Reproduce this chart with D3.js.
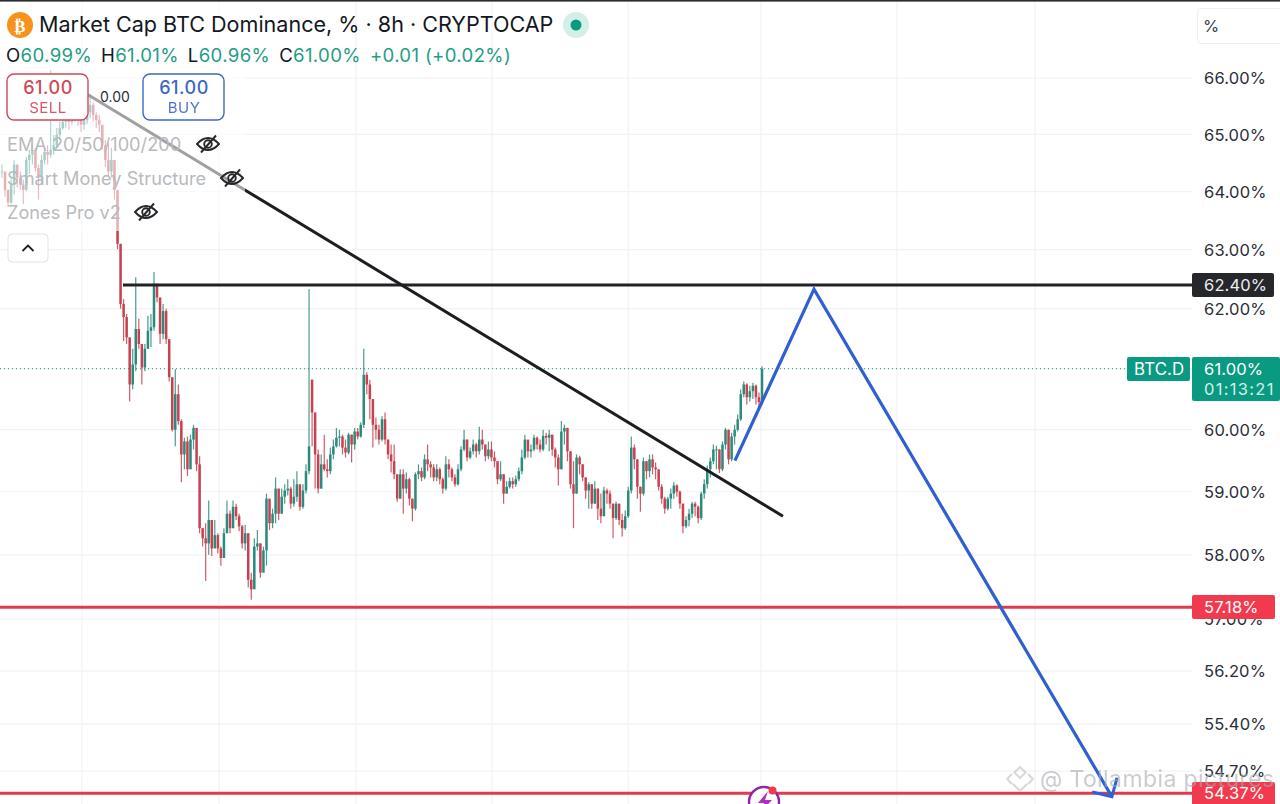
<!DOCTYPE html>
<html><head><meta charset="utf-8">
<script src="https://cdn.jsdelivr.net/npm/d3@7/dist/d3.min.js"></script>
<style>html,body{margin:0;padding:0;background:#fff;overflow:hidden}svg{display:block}text{font-family:Inter,Roboto,"Noto Sans",sans-serif}</style>
</head><body><div id="chart"></div>
<script>
const closes=[64.35,64.03,63.81,64.12,64.47,64.24,64.12,64.03,64.55,64.64,64.73,64.41,64.24,64.55,64.69,64.64,64.73,64.81,64.99,65.11,65.22,65.29,65.22,65.29,65.39,65.29,65.17,65.25,65.39,65.52,65.34,65.25,65.17,64.81,64.55,64.35,64.55,64.03,63.10,62.08,61.86,61.52,60.74,61.07,61.66,61.41,61.02,61.33,61.63,61.69,62.42,62.19,61.58,61.96,61.49,60.86,60.00,60.58,60.14,59.60,59.81,59.36,59.84,60.03,59.44,58.42,58.26,58.18,58.55,58.10,58.31,58.10,57.95,58.34,58.65,58.42,58.76,58.61,58.45,58.18,58.34,57.61,57.46,58.13,58.18,57.72,58.07,58.89,58.50,58.65,59.05,58.65,58.92,59.02,59.05,58.81,58.92,59.12,58.76,59.02,59.33,59.73,60.28,59.60,59.05,59.44,59.36,59.33,59.60,59.73,59.87,59.89,59.71,59.63,59.92,59.76,59.97,59.89,60.08,60.90,60.74,60.50,60.08,60.00,59.84,60.17,59.84,59.60,59.49,59.28,58.89,59.28,59.05,59.20,58.89,58.73,59.28,59.33,59.23,59.52,59.44,59.39,59.23,59.36,59.20,59.05,59.44,59.36,59.23,59.12,59.36,59.68,59.84,59.55,59.65,59.76,59.65,59.84,59.76,59.57,59.68,59.55,59.49,59.20,59.28,58.97,59.08,59.17,59.12,59.20,59.33,59.55,59.84,59.65,59.68,59.87,59.76,59.68,59.90,59.87,59.92,59.68,59.55,59.36,59.97,60.03,59.65,59.12,58.97,59.55,59.44,59.23,59.02,59.12,58.81,59.05,58.73,58.61,59.02,58.97,58.81,58.58,58.81,58.55,58.42,58.61,59.02,59.71,59.52,59.08,58.97,59.49,59.33,59.52,59.39,59.36,59.08,58.89,58.73,58.89,58.97,59.10,59.00,58.81,58.45,58.55,58.65,58.81,58.76,58.58,58.97,59.12,59.36,59.49,59.68,59.68,59.36,59.76,60.00,59.52,59.89,60.00,60.17,60.58,60.74,60.53,60.63,60.72,60.53,60.45,61.00];
const highs=[64.47,64.15,64.03,64.24,64.55,64.47,64.35,64.21,64.60,64.73,64.85,64.76,64.47,64.64,64.76,64.81,66.14,64.99,65.11,65.22,65.61,65.47,65.39,65.52,65.61,65.52,65.39,65.43,65.61,65.70,65.56,65.39,65.34,64.94,64.90,64.85,64.76,64.38,63.98,63.10,62.16,61.91,61.52,61.33,62.53,61.83,61.41,61.41,61.88,61.91,62.62,62.42,62.16,62.08,62.00,61.49,60.86,60.99,60.74,60.17,59.87,59.89,59.92,60.08,60.00,59.57,58.42,58.50,58.86,58.26,58.55,58.34,58.13,58.42,58.86,58.70,58.86,58.81,58.65,58.47,58.47,58.34,57.72,58.26,58.39,58.18,58.13,58.97,58.76,58.73,59.23,59.05,59.05,59.12,59.20,59.08,59.20,59.33,58.97,59.12,59.44,62.33,60.82,60.28,59.68,59.60,59.92,59.52,59.71,59.84,60.03,60.00,59.92,59.84,59.95,59.92,60.03,60.03,60.12,61.33,60.94,60.82,60.50,60.20,60.08,60.22,60.28,59.84,59.76,59.76,59.28,59.36,59.36,59.31,59.23,58.89,59.31,59.44,59.39,59.60,59.76,59.49,59.44,59.44,59.39,59.23,59.57,59.52,59.39,59.28,59.44,59.73,60.00,59.84,59.71,59.84,59.79,60.05,60.00,59.76,59.81,59.81,59.65,59.49,59.49,59.28,59.17,59.23,59.23,59.26,59.39,59.68,59.92,59.81,59.76,59.92,59.89,59.84,60.00,59.95,60.00,59.87,59.71,59.60,60.14,60.08,60.03,59.65,59.49,59.60,59.58,59.44,59.23,59.15,59.12,59.17,59.05,58.97,59.08,59.05,59.02,58.81,58.84,58.81,58.65,58.70,59.08,59.89,59.76,59.52,59.08,59.55,59.49,59.60,59.60,59.47,59.36,59.12,58.92,58.92,59.05,59.15,59.12,59.02,58.81,58.61,58.73,58.84,58.84,58.78,59.00,59.20,59.42,59.55,59.76,59.74,59.68,59.81,60.03,60.00,59.95,60.08,60.25,60.66,60.79,60.76,60.72,60.77,60.74,60.61,61.04];
const lows=[64.24,63.91,63.74,63.78,63.95,64.07,64.03,63.78,64.00,64.30,64.47,64.35,63.86,64.12,64.47,64.47,64.59,64.64,64.76,64.90,65.08,65.11,65.08,65.17,65.22,65.15,65.04,65.08,65.18,65.29,65.22,65.11,65.04,64.73,64.43,64.26,64.24,63.86,63.01,62.00,61.46,61.41,60.46,60.66,60.96,61.33,60.74,60.96,61.33,61.36,61.63,62.11,61.41,61.49,61.41,60.79,59.97,59.73,60.08,59.15,59.36,59.25,59.44,59.68,59.33,58.34,58.13,57.59,58.00,57.98,58.18,58.02,57.83,58.02,58.42,58.34,58.42,58.55,58.37,58.10,58.07,57.49,57.30,57.67,58.07,57.64,57.77,57.83,58.39,58.42,58.50,58.55,58.65,58.81,58.94,58.73,58.76,58.84,58.70,58.73,58.97,59.28,59.73,59.05,58.97,59.05,59.33,59.23,59.28,59.52,59.71,59.73,59.60,59.55,59.60,59.47,59.68,59.84,59.87,60.03,60.58,60.17,59.71,59.84,59.76,59.81,59.76,59.52,59.31,59.20,58.84,58.89,58.65,58.97,58.78,58.53,58.70,59.20,59.17,59.20,59.33,59.23,59.17,59.17,59.12,58.97,59.02,59.23,59.17,59.08,59.10,59.33,59.65,59.49,59.52,59.60,59.55,59.60,59.68,59.49,59.52,59.49,59.39,59.12,59.17,58.81,58.97,59.05,59.05,59.08,59.17,59.28,59.52,59.55,59.55,59.65,59.68,59.63,59.65,59.76,59.65,59.58,59.39,59.10,59.36,59.76,59.49,59.05,58.42,58.97,59.28,59.17,58.89,58.73,58.73,58.81,58.55,58.50,58.61,58.81,58.73,58.26,58.55,58.47,58.29,58.39,58.58,58.97,59.36,58.89,58.68,58.94,59.20,59.23,59.28,59.20,59.02,58.81,58.65,58.70,58.73,58.89,58.92,58.73,58.34,58.42,58.45,58.58,58.61,58.50,58.55,58.89,59.05,59.23,59.44,59.36,59.30,59.33,59.68,59.44,59.49,59.76,59.97,60.14,60.53,60.41,60.46,60.50,60.41,60.36,60.41];
const gapOpens={102:60.82};
const axisTicks=[66,65,64,63,62,61,60,59,58,57,56.2,55.4,54.7];
const gridBars=[26.3,71.4,116.4,161.2,206,249.7,294.4,339.8];
const trendLine=[[28.3,65.70],[256.9,58.61]];
const resistance=[39.8,391.4,62.40];
const supports=[57.18,54.37];
const lastPrice=61.00;
const projection=[[241.1,59.50],[267.1,62.33],[365.1,54.32]];
const arrowWings=[[358.6,54.39],[365.1,54.32],[366.8,54.60]];
const ohlcLabels=[["O","60.99%"],["H","61.01%"],["L","60.96%"],["C","61.00%"]];
const legendRows=["EMA 20/50/100/200","Smart Money Structure","Zones Pro v2"];

const W=1280,H=804,AX=1192;
const y=d3.scaleLog().domain([54.7,66]).range([771,78]);
const x=d3.scaleLinear().domain([0,250]).range([2,762]);
const svg=d3.select("#chart").append("svg").attr("width",W).attr("height",H);
const defs=svg.append("defs");
defs.append("filter").attr("id","soft").append("feGaussianBlur").attr("stdDeviation",0.5);
const UP="#2a8a7b",DN="#c9404f";

// grid
const grid=svg.append("g").attr("stroke","#f1f2f4").attr("stroke-width",1.2);
grid.selectAll("line.h").data(axisTicks).join("line").attr("x1",0).attr("x2",AX).attr("y1",d=>y(d)).attr("y2",d=>y(d));
grid.selectAll("line.v").data(gridBars).join("line").attr("x1",d=>x(d)).attr("x2",d=>x(d)).attr("y1",0).attr("y2",H);

// last price dotted
svg.append("line").attr("x1",0).attr("x2",1127).attr("y1",y(lastPrice)).attr("y2",y(lastPrice))
  .attr("stroke","#089981").attr("stroke-width",1).attr("stroke-dasharray","1 3");

// candles
const bars=closes.map((c,i)=>({i,c,o:gapOpens[i]!==undefined?gapOpens[i]:(i?closes[i-1]:c),h:highs[i],l:lows[i]}));
const cg=svg.append("g").attr("filter","url(#soft)");
cg.selectAll("line").data(bars).join("line")
  .attr("x1",d=>x(d.i)).attr("x2",d=>x(d.i)).attr("y1",d=>y(d.h)).attr("y2",d=>y(d.l))
  .attr("stroke",d=>d.c>=d.o?UP:DN).attr("stroke-width",1.2).attr("stroke-opacity",.85);
cg.selectAll("rect").data(bars).join("rect")
  .attr("x",d=>x(d.i)-1.25).attr("width",2.5)
  .attr("y",d=>y(Math.max(d.o,d.c))).attr("height",d=>Math.max(1,Math.abs(y(d.o)-y(d.c))))
  .attr("fill",d=>d.c>=d.o?UP:DN);

const line=d3.line().x(d=>x(d[0])).y(d=>y(d[1]));
// supports
svg.selectAll("line.sup").data(supports).join("line").attr("class","sup").attr("x1",0).attr("x2",AX)
  .attr("y1",d=>y(d)).attr("y2",d=>y(d)).attr("stroke","#e23a4c").attr("stroke-width",3);
// resistance
svg.append("line").attr("x1",x(resistance[0])).attr("x2",AX).attr("y1",y(resistance[2])).attr("y2",y(resistance[2]))
  .attr("stroke","#222326").attr("stroke-width",3);
// trend
svg.append("path").attr("d",line(trendLine)).attr("fill","none").attr("stroke","#1c1d20").attr("stroke-width",3);
// projection
svg.append("path").attr("d",line(projection)).attr("fill","none").attr("stroke","#2f5fd0").attr("stroke-width",3.2).attr("stroke-linejoin","miter");
svg.append("path").attr("d",line(arrowWings)).attr("fill","none").attr("stroke","#2f5fd0").attr("stroke-width",3);

// legend veil
svg.append("rect").attr("x",0).attr("y",0).attr("width",245).attr("height",231).attr("fill","#fff").attr("opacity",.58);

// top rule
svg.append("rect").attr("x",0).attr("y",0).attr("width",W).attr("height",1.6).attr("fill","#2b2b2e");

// axis
const axis=d3.axisRight(y).tickValues(axisTicks).tickSize(0).tickPadding(12).tickFormat(d=>d3.format(".2f")(d)+"%");
const ag=svg.append("g").attr("transform",`translate(${AX},0.5)`).call(axis);
ag.select(".domain").remove();
ag.selectAll("text").attr("font-size",16.5).attr("fill","#2a2e39").style("font-family","Inter,Roboto,sans-serif").attr("letter-spacing",.15);

// % box
svg.append("rect").attr("x",1197.5).attr("y",8.5).attr("width",100).attr("height",35).attr("rx",4).attr("fill","#fff").attr("stroke","#eceef1");
svg.append("text").attr("x",1203).attr("y",32).attr("font-size",16.5).attr("fill","#3a3e49").text("%");

// price labels
function tag(xp,yp,w,h,fill,lines,size){
  svg.append("rect").attr("x",xp).attr("y",yp).attr("width",w).attr("height",h).attr("rx",2).attr("fill",fill);
  lines.forEach(l=>svg.append("text").attr("x",l[0]).attr("y",l[1]).attr("font-size",size||16.5).attr("fill",l[3]||"#fff").attr("letter-spacing",l[4]||.15).text(l[2]));
}
tag(1192,273,82,24,"#26272b",[[1204,291,"62.40%","#eee"]]);
tag(1127,357,63,24,"#0a9a82",[[1134,375,"BTC.D"]],16.8);
tag(1192,357,88,44,"#0a9a82",[[1204,375,"61.00%"],[1204,395,"01:13:21","#d4f1ea",1.3]]);
tag(1192,595,83,24,"#f23a4e",[[1204,613,"57.18%"]]);
tag(1192,782,83,24,"#f23a4e",[[1204,799,"54.37%"]]);

// header
svg.append("circle").attr("cx",20).attr("cy",25).attr("r",13).attr("fill","#f7931a");
svg.append("text").attr("x",20).attr("y",31.5).attr("text-anchor","middle").attr("font-size",17).attr("font-weight",700).attr("fill","#fff").style("font-family","'DejaVu Sans'").text("₿");
svg.append("text").attr("x",39).attr("y",32).attr("font-size",21.55).attr("fill","#131722").text("Market Cap BTC Dominance, % · 8h · CRYPTOCAP");
svg.append("circle").attr("cx",576).attr("cy",25).attr("r",13).attr("fill","#d5eee8");
svg.append("circle").attr("cx",576).attr("cy",25).attr("r",5.5).attr("fill","#0a9a82");

// OHLC
const ohlc=svg.append("text").attr("x",6).attr("y",62).attr("font-size",18.6).attr("letter-spacing",.35);
ohlcLabels.forEach((p,i)=>{
  ohlc.append("tspan").attr("fill","#131722").attr("dx",i?9:0).text(p[0]);
  ohlc.append("tspan").attr("fill","#1f9d87").text(p[1]);
});
ohlc.append("tspan").attr("fill","#1f9d87").attr("dx",9).text("+0.01 (+0.02%)");

// sell / buy
function btn(xp,col,price,lab){
  svg.append("rect").attr("x",xp).attr("y",74).attr("width",81).attr("height",46).attr("rx",7).attr("fill","#fff").attr("stroke",col).attr("stroke-width",1.4);
  svg.append("text").attr("x",xp+41).attr("y",94).attr("text-anchor","middle").attr("font-size",18).attr("letter-spacing",.5).attr("font-weight",500).attr("fill",col).text(price);
  svg.append("text").attr("x",xp+41).attr("y",113).attr("text-anchor","middle").attr("font-size",15).attr("letter-spacing",.5).attr("fill",col).attr("opacity",.9).text(lab);
}
btn(7,"#d2475a","61.00","SELL");
btn(143,"#3c68c4","61.00","BUY");
svg.append("text").attr("x",100).attr("y",102).attr("font-size",14).attr("fill","#2a2e39").text("0.00");

// legend rows
function eye(cx,cy){
  const g=svg.append("g").attr("transform",`translate(${cx},${cy})`).attr("fill","none").attr("stroke","#26272b").attr("stroke-width",1.9);
  g.append("path").attr("d","M-11 0Q0 -12 11 0Q0 12 -11 0Z");
  g.append("circle").attr("r",3.8);
  g.append("path").attr("d","M-7 8.5L8 -8.5");
}
const legendY=[151,185,219], legendEye=[208,232,146];
legendRows.forEach((r,i)=>{
  svg.append("text").attr("x",7).attr("y",legendY[i]).attr("font-size",18.2).attr("fill","#b9babd").text(r);
  eye(legendEye[i],legendY[i]-7);
});
// collapse button
svg.append("rect").attr("x",8).attr("y",234).attr("width",40).attr("height",28).attr("rx",4).attr("fill","#fff").attr("stroke","#e2e3e6");
svg.append("path").attr("d","M22.5 251L28 245.5L33.5 251").attr("fill","none").attr("stroke","#1e2026").attr("stroke-width",1.8);

// lightning badge
svg.append("circle").attr("cx",764).attr("cy",802).attr("r",15).attr("fill","#fff").attr("stroke","#8e24aa").attr("stroke-width",2.4);
svg.append("path").attr("d","M768 791L758 803L764 803L761 812L772 800L765 800Z").attr("fill","#b02fc6");
svg.append("circle").attr("cx",772.5).attr("cy",790.5).attr("r",4).attr("fill","#f23a4e");

// watermark
const wm=svg.append("g").attr("opacity",.6);
wm.append("g").attr("transform","translate(1020,779)").attr("fill","none").attr("stroke","#bfc1c5").attr("stroke-width",2.2)
  .selectAll("path").data(["M0 -12L5.5 -6.5L0 -1L-5.5 -6.5Z","M-13 0L-8 -5M-13 0L-8 5M13 0L8 -5M13 0L8 5","M0 12L7 5M0 12L-7 5"]).join("path").attr("d",d=>d);
wm.append("text").attr("x",1040).attr("y",787).attr("font-size",23).attr("letter-spacing",.4).attr("fill","#a9abb0").text("@ Tollambia pictures");
</script></body></html>
